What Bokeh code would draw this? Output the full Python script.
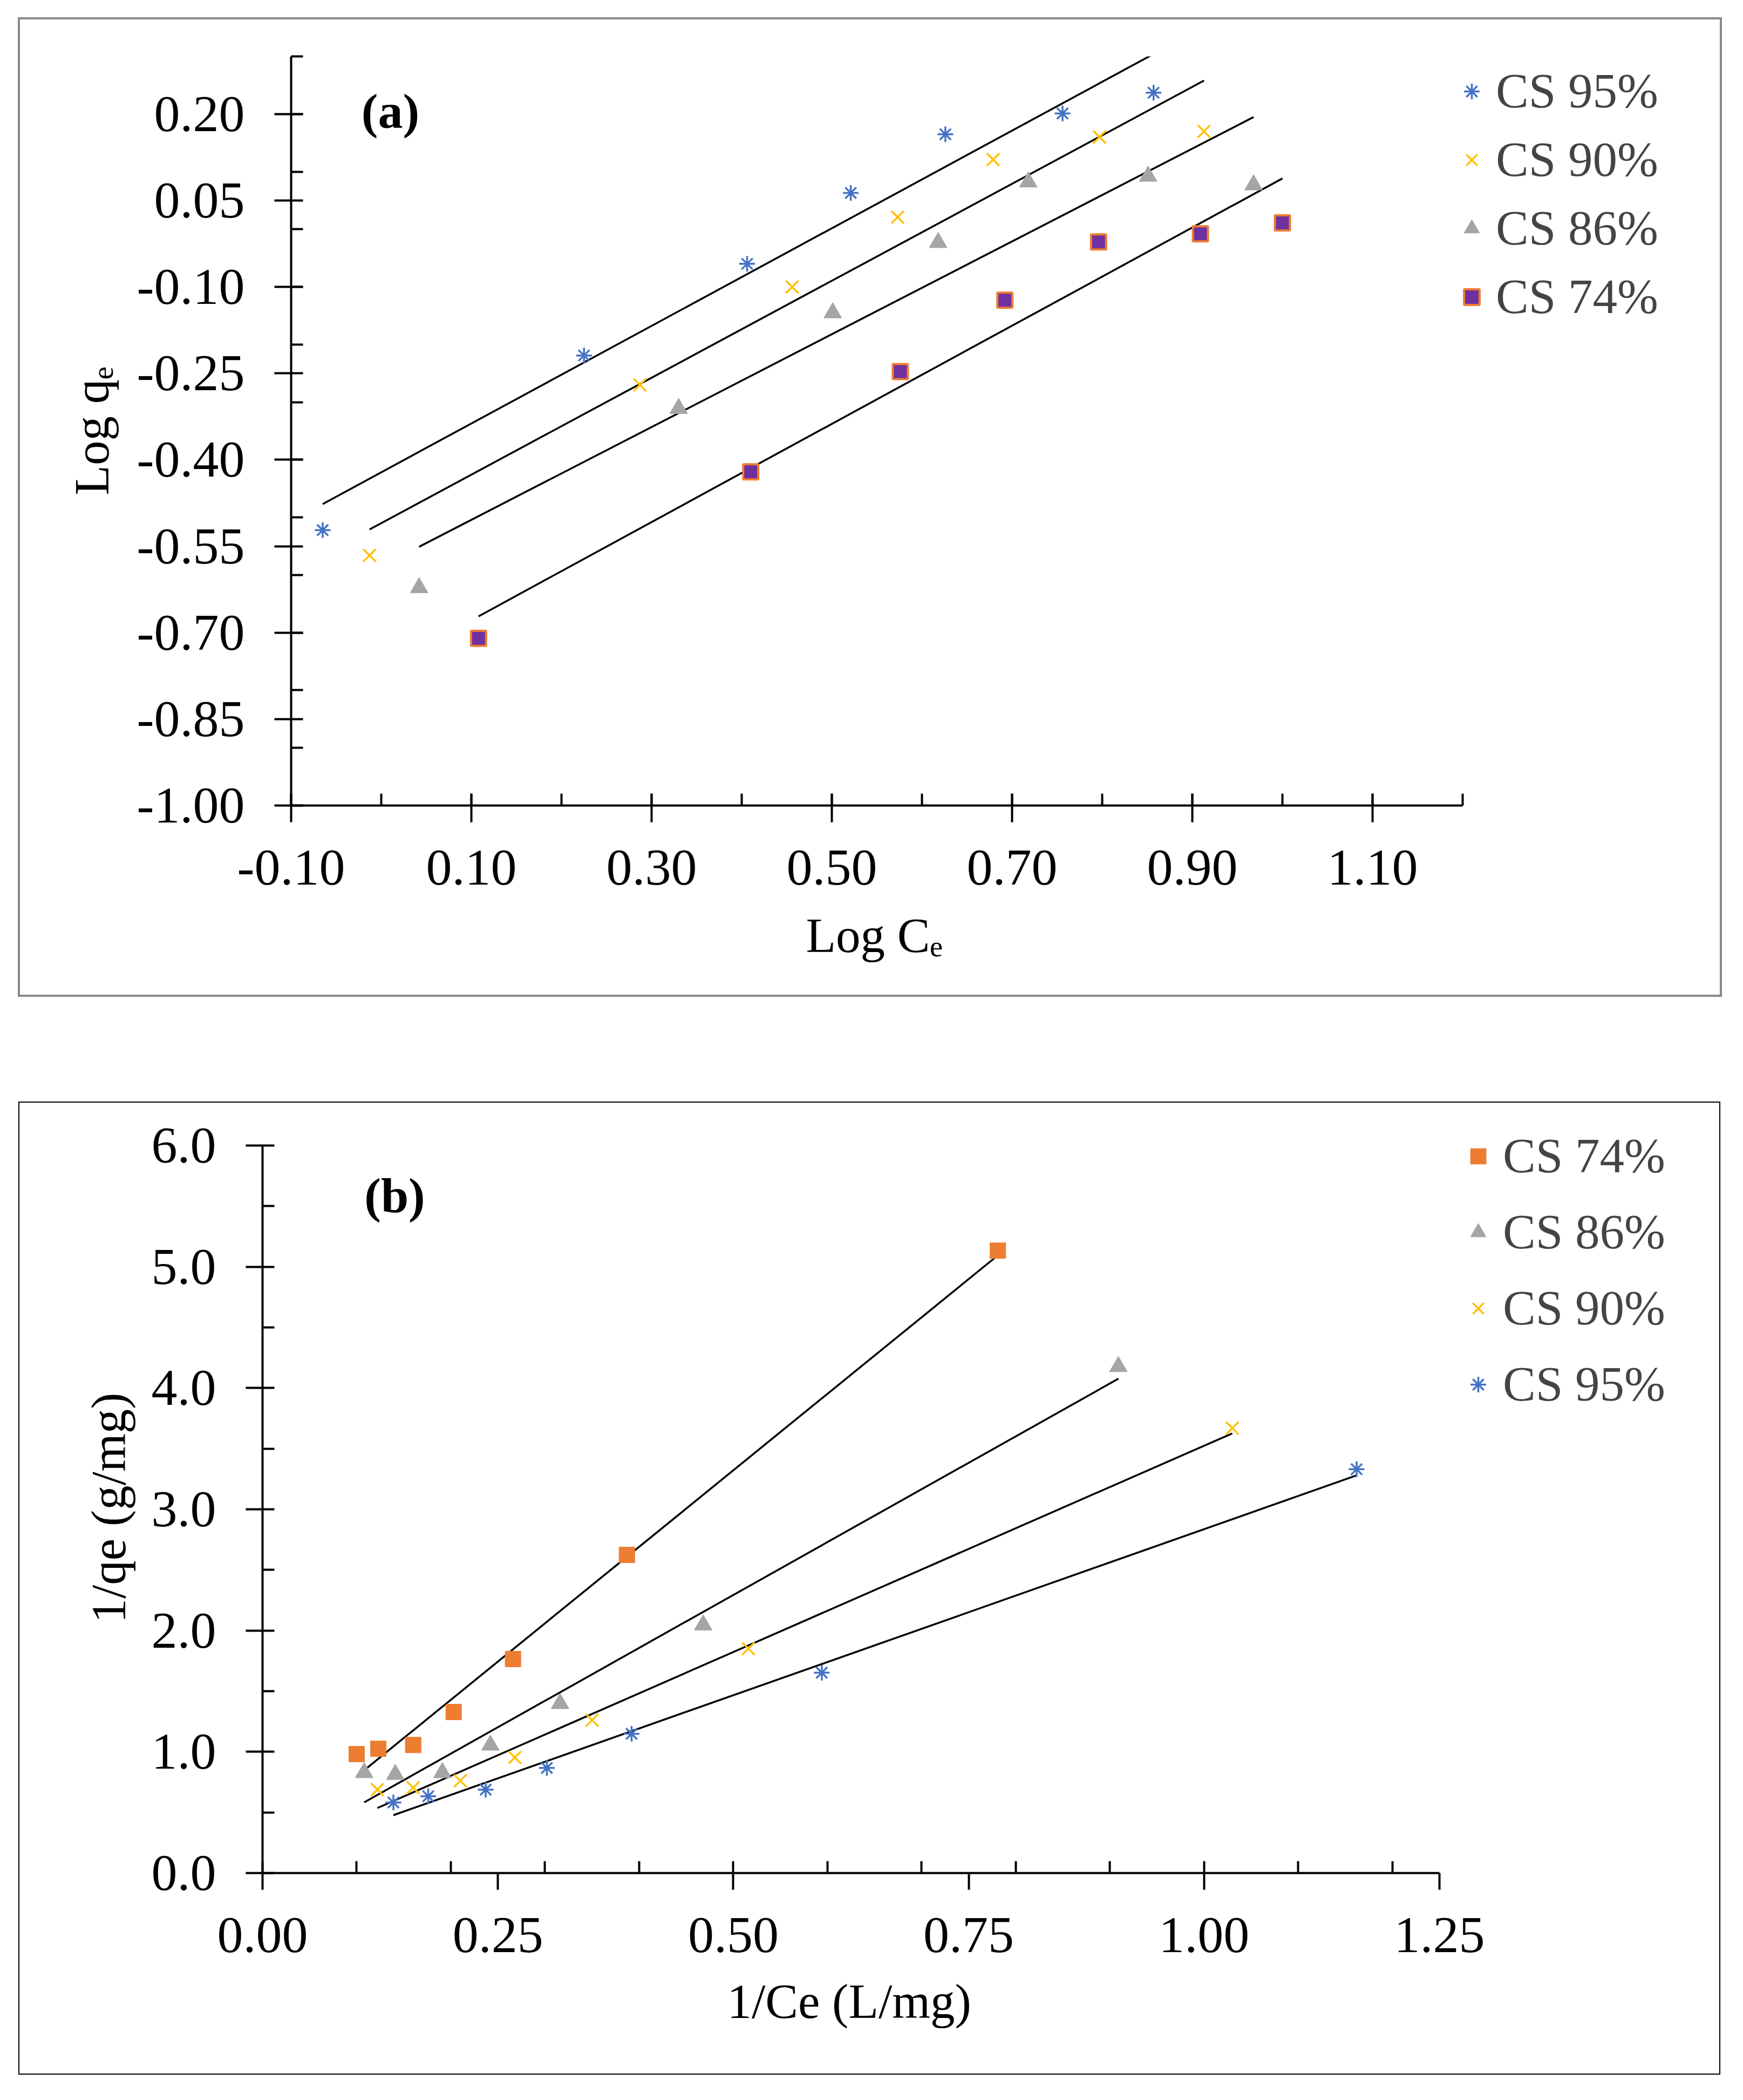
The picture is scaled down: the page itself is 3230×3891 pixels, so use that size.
import numpy as np
from bokeh.plotting import figure
from bokeh.models import FixedTicker, PrintfTickFormatter, Label, Legend, LegendItem, Title
from bokeh.embed import file_html
from bokeh.resources import INLINE

FONT = "Liberation Serif"

# ---- panel (a): log Ce vs log qe
x95a = [-0.065, 0.225, 0.406, 0.521, 0.626, 0.756, 0.857]
y95a = [-0.522, -0.219, -0.060, 0.063, 0.165, 0.201, 0.237]
x90a = [-0.013, 0.287, 0.456, 0.573, 0.679, 0.797, 0.913]
y90a = [-0.566, -0.270, -0.100, 0.021, 0.121, 0.160, 0.170]
x86a = [0.042, 0.330, 0.501, 0.618, 0.718, 0.851, 0.968]
y86a = [-0.622, -0.311, -0.145, -0.023, 0.082, 0.092, 0.077]
x74a = [0.108, 0.410, 0.576, 0.692, 0.796, 0.909, 1.000]
y74a = [-0.710, -0.421, -0.247, -0.123, -0.022, -0.008, 0.011]

xticks_a = [-0.1, 0.1, 0.3, 0.5, 0.7, 0.9, 1.1]
xminor_a = [-0.1, 0.0, 0.1, 0.2, 0.3, 0.4, 0.5, 0.6, 0.7, 0.8, 0.9, 1.0, 1.1, 1.2]
yticks_a = [-1.0, -0.85, -0.7, -0.55, -0.4, -0.25, -0.1, 0.05, 0.2]
yminor_a = [-1.0, -0.9, -0.8, -0.7, -0.6, -0.5, -0.4, -0.3, -0.2, -0.1, 0.0, 0.1, 0.2, 0.3]

# ---- panel (b): 1/Ce vs 1/qe
x74b = [0.100, 0.123, 0.160, 0.203, 0.266, 0.387, 0.781]
y74b = [0.981, 1.025, 1.056, 1.328, 1.765, 2.624, 5.133]
x86b = [0.108, 0.141, 0.191, 0.242, 0.316, 0.468, 0.909]
y86b = [0.828, 0.813, 0.828, 1.055, 1.398, 2.046, 4.177]
x90b = [0.122, 0.160, 0.210, 0.268, 0.350, 0.516, 1.030]
y90b = [0.688, 0.704, 0.761, 0.953, 1.261, 1.851, 3.669]
x95b = [0.139, 0.176, 0.237, 0.302, 0.392, 0.594, 1.162]
y95b = [0.582, 0.633, 0.688, 0.867, 1.148, 1.652, 3.330]

xticks_b = [0.0, 0.25, 0.5, 0.75, 1.0, 1.25]
xminor_b = [0.0, 0.1, 0.2, 0.3, 0.4, 0.5, 0.6, 0.7, 0.8, 0.9, 1.0, 1.1, 1.2]
yticks_b = [0, 1, 2, 3, 4, 5, 6]
yminor_b = [0.5, 1.5, 2.5, 3.5, 4.5, 5.5]

BLUE, YELLOW, GRAY, ORANGE, PURPLE = "#4472c4", "#ffc000", "#a5a5a5", "#ed7d31", "#7030a0"


def fit_line(x, y):
    k, b = np.polyfit(x, y, 1)
    xs = np.array([min(x), max(x)])
    return xs, k * xs + b


def style_axis(ax, ticks, minor, bounds, fmt, tick_in, standoff):
    ax.ticker = FixedTicker(ticks=ticks, minor_ticks=minor)
    ax.formatter = PrintfTickFormatter(format=fmt)
    ax.bounds = bounds
    ax.axis_line_width = 4
    ax.axis_line_color = "black"
    ax.major_tick_line_width = 4
    ax.minor_tick_line_width = 4
    ax.major_tick_line_color = "black"
    ax.minor_tick_line_color = "black"
    ax.major_tick_out = 31
    ax.major_tick_in = tick_in
    ax.minor_tick_in = 22
    ax.minor_tick_out = 0
    ax.major_label_standoff = standoff
    ax.major_label_text_font = FONT
    ax.major_label_text_font_size = "96px"
    ax.major_label_text_color = "black"
    ax.axis_label_text_font = FONT
    ax.axis_label_text_font_size = "91px"
    ax.axis_label_text_font_style = "normal"
    ax.axis_label_text_color = "black"


def axis_title(p, text, side, offset, standoff):
    p.add_layout(Title(text=text, align="left", offset=offset, standoff=standoff,
                       vertical_align="bottom", text_font=FONT, text_font_size="91px",
                       text_font_style="normal", text_color="black"), side)


def add_text(p, text, x, y, size, bold=False):
    p.add_layout(Label(x=x, y=y, x_units="screen", y_units="screen", text=text,
                       text_font=FONT, text_font_size=f"{size}px", text_align="center",
                       text_baseline="alphabetic",
                       text_font_style="bold" if bold else "normal", text_color="black"))


def make_legend(items, location, standoff, spacing):
    return Legend(items=[LegendItem(label=lab, renderers=[r]) for lab, r in items],
                  location=location, glyph_width=72, glyph_height=72, label_standoff=standoff,
                  spacing=spacing, padding=0, margin=0, border_line_color=None,
                  background_fill_alpha=0, label_text_font=FONT, label_text_font_size="91px")


def base_figure(fw, fh, xr, yr, left, right, top, bottom, border, top_margin, left_margin):
    p = figure(frame_width=fw, frame_height=fh, x_range=xr, y_range=yr, output_backend="svg",
               toolbar_location=None, min_border_left=left, min_border_right=right,
               min_border_top=top, min_border_bottom=bottom,
               margin=(top_margin, 0, 0, left_margin), styles={"border": border})
    p.title.visible = False
    p.grid.grid_line_color = None
    p.outline_line_color = None
    p.background_fill_color = "white"
    p.border_fill_color = "white"
    return p


# ================= panel (a)
# axes span 2171 x 1388 px; the frame continues to the right so the legend sits inside it
fw_a, fh_a = 2648, 1388
xa_end = -0.1 + 1.3 * fw_a / 2171
p1 = base_figure(fw_a, fh_a, (-0.1, xa_end), (-1.0, 0.3), 502, 0, 68, 351,
                 "4px solid #898989", 32, 33)
style_axis(p1.xaxis[0], xticks_a, xminor_a, (-0.1, 1.2), "%.2f", 22, 52)
style_axis(p1.yaxis[0], yticks_a, yminor_a, (-1.0, 0.3), "%.2f", 22, 55)
p1.yaxis[0].axis_label = "Log q\u2091"
p1.yaxis[0].axis_label_standoff = 30
axis_title(p1, "Log C\u2091", "below", 954, 78)

for xs, ys in [(x95a, y95a), (x90a, y90a), (x86a, y86a), (x74a, y74a)]:
    lx, ly = fit_line(xs, ys)
    p1.line(lx, ly, line_color="black", line_width=3.5)

r95a = p1.scatter(x95a, y95a, marker="asterisk", size=29, line_color=BLUE, line_width=3.5)
r90a = p1.scatter(x90a, y90a, marker="x", size=33, line_color=YELLOW, line_width=3.5)
r86a = p1.scatter(x86a, y86a, marker="triangle", size=33, fill_color=GRAY, line_color=GRAY)
r74a = p1.scatter(x74a, y74a, marker="square", size=28, fill_color=PURPLE, line_color=ORANGE, line_width=4)

p1.add_layout(make_legend([("CS 95%", r95a), ("CS 90%", r90a), ("CS 86%", r86a), ("CS 74%", r74a)],
                          (2152, 890), 9, 22))
add_text(p1, "(a)", 184, 1287, 92, bold=True)

# ================= panel (b)
# axes span 2181 x 1348 px; the frame continues up and right so the legend sits inside it
fw_b, fh_b = 2700, 1427
xb_end = 1.25 * fw_b / 2181
yb_end = 6.0 * fh_b / 1348
p2 = base_figure(fw_b, fh_b, (0.0, xb_end), (0.0, yb_end), 450, 0, 0, 372,
                 "2px solid black", 194, 34)
style_axis(p2.xaxis[0], xticks_b, xminor_b, (0.0, 1.25), "%.2f", 0, 52)
style_axis(p2.yaxis[0], yticks_b, yminor_b, (0.0, 6.0), "%.1f", 22, 55)
axis_title(p2, "1/Ce (L/mg)", "below", 861, 72)
axis_title(p2, "1/qe (g/mg)", "left", 463, 52)

for xs, ys in [(x74b, y74b), (x86b, y86b), (x90b, y90b), (x95b, y95b)]:
    lx, ly = fit_line(xs, ys)
    p2.line(lx, ly, line_color="black", line_width=3.5)

r74b = p2.scatter(x74b, y74b, marker="square", size=29, fill_color=ORANGE, line_color=ORANGE)
r86b = p2.scatter(x86b, y86b, marker="triangle", size=33, fill_color=GRAY, line_color=GRAY)
r90b = p2.scatter(x90b, y90b, marker="x", size=33, line_color=YELLOW, line_width=3.5)
r95b = p2.scatter(x95b, y95b, marker="asterisk", size=29, line_color=BLUE, line_width=3.5)

p2.add_layout(make_legend([("CS 74%", r74b), ("CS 86%", r86b), ("CS 90%", r90b), ("CS 95%", r95b)],
                          (2217, 853), 10, 36))
add_text(p2, "(b)", 245, 1256, 92, bold=True)

open("out.html", "w").write(file_html([p1, p2], INLINE))
